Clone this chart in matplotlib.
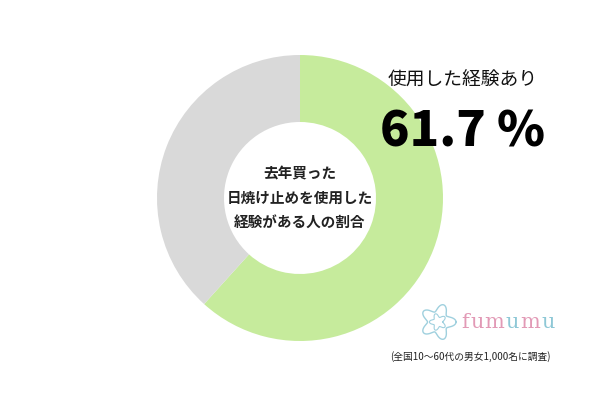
import matplotlib
matplotlib.use("Agg")
import matplotlib.pyplot as plt
import numpy as np

plt.rcParams['font.family'] = ['Noto Sans CJK JP', 'DejaVu Sans']

labels = ["使用した経験あり", "使用した経験なし"]
values = [61.7, 38.3]
colors = ["#c6eb9c", "#d9d9d9"]
center_lines = ["去年買った", "日焼け止めを使用した", "経験がある人の割合"]
headline = "使用した経験あり"
pct_text = "61.7 %"
footnote = "(全国10〜60代の男女1,000名に調査)"

W, H = 600, 400
fig = plt.figure(figsize=(6, 4), dpi=100)
fig.patch.set_facecolor("white")

cx, cy, R, r = 300, 198, 143, 76
ax = fig.add_axes([(cx - R) / W, (H - cy - R) / H, 2 * R / W, 2 * R / H])
ax.pie(values, colors=colors, startangle=90, counterclock=False, radius=1,
       wedgeprops=dict(width=1 - r / R, linewidth=0))
ax.set_xlim(-1, 1)
ax.set_ylim(-1, 1)
ax.set_aspect("equal")
ax.axis("off")

def fx(x): return x / W
def fy(y): return 1 - y / H

for i, line in enumerate(center_lines):
    fig.text(fx(300), fy(173 + i * 24.5), line, ha="center", va="center",
             fontsize=10.5, fontweight="bold", color="#222222")

fig.text(fx(463), fy(80), headline, ha="center", va="center", fontsize=13.5, color="#111111")
fig.text(fx(463), fy(132), pct_text, ha="center", va="center", fontsize=35,
         fontweight="black", color="#000000")

# fumumu logo, letters placed one after another using measured widths
logo = "fumumu"
logo_colors = ["#e29ab6", "#e29ab6", "#e29ab6", "#8ec8d6", "#e29ab6", "#8ec8d6"]
renderer = fig.canvas.get_renderer()
x0 = 461
for ch, c in zip(logo, logo_colors):
    t = fig.text(fx(x0), fy(322), ch, ha="left", va="center", fontsize=15,
                 family="DejaVu Serif", color=c)
    bb = t.get_window_extent(renderer=renderer)
    x0 += bb.width + 1.2

# flower icon
lax = fig.add_axes([fx(419), fy(341), 38 / W, 38 / H])
theta = np.linspace(0, 2 * np.pi, 400)
rr = 0.75 + 0.2 * np.cos(5 * theta)
lax.plot(rr * np.cos(theta), rr * np.sin(theta), color="#9fd0de", lw=1)
rr2 = 0.35 + 0.1 * np.cos(5 * theta + np.pi)
lax.plot(rr2 * np.cos(theta), rr2 * np.sin(theta), color="#9fd0de", lw=0.8)
lax.set_xlim(-1, 1); lax.set_ylim(-1, 1); lax.set_aspect("equal"); lax.axis("off")

fig.text(fx(470), fy(357), footnote, ha="center", va="center", fontsize=7, color="#222222")

fig.savefig("out.png", dpi=100, facecolor="white")
